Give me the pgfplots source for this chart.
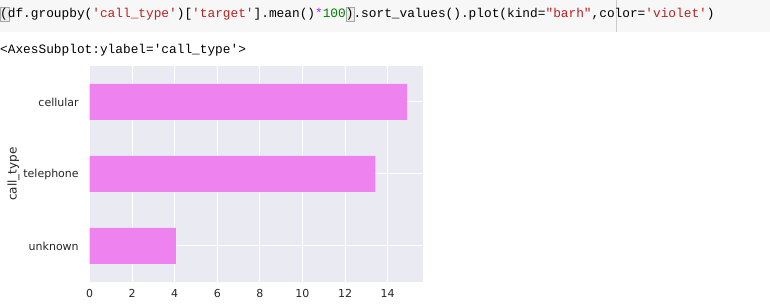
\documentclass[border=0pt]{standalone}
\usepackage{pgfplots}
\pgfplotsset{compat=1.18}
\usepackage{fontspec}
\setmainfont{DejaVu Sans}
\newfontfamily\codefont{Liberation Mono}
\definecolor{sbbg}{HTML}{EAEAF2}
\definecolor{violetc}{HTML}{EE82EE}
\definecolor{txt}{HTML}{262626}
\definecolor{cellbg}{HTML}{F7F7F7}
\definecolor{strc}{HTML}{BA2121}
\definecolor{numc}{HTML}{008000}
\definecolor{opc}{HTML}{AA22FF}
\begin{document}
\begin{tikzpicture}
\path[use as bounding box, fill=white] (0pt,0pt) rectangle (770pt,307pt);
\fill[cellbg] (0pt,307pt) rectangle (770pt,275pt);
\draw[gray!40, line width=0.8pt] (616pt,307pt) -- (616pt,275pt);
\draw[gray!70, line width=0.6pt, fill=gray!15] (0.5pt,300pt) rectangle (9pt,285.5pt);
\draw[gray!70, line width=0.6pt, fill=gray!15] (346.5pt,300pt) rectangle (354.5pt,285.5pt);
\node[anchor=west, inner sep=0pt, font=\codefont\fontsize{12.8}{14}\selectfont] at (0pt,293pt)
 {(df.groupby(\textcolor{strc}{'call\_type'})[\textcolor{strc}{'target'}].mean()\textcolor{opc}{*}\textcolor{numc}{100}).sort\_values().plot(kind=\textcolor{strc}{"barh"},color=\textcolor{strc}{'violet'})};
\node[anchor=west, inner sep=0pt, font=\codefont\fontsize{12.8}{14}\selectfont] at (0pt,257pt)
 {<AxesSubplot:ylabel='call\_type'>};
\begin{axis}[
  at={(89.5pt,25pt)}, anchor=south west,
  scale only axis, width=333.5pt, height=216pt,
  xmin=0, xmax=15.66, ymin=-0.5, ymax=2.5,
  axis background/.style={fill=sbbg},
  axis line style={draw=none},
  major tick style={draw=none},
  grid=major, grid style={white, line width=1pt},
  xtick={0,2,4,6,8,10,12,14},
  ytick={0,1,2}, yticklabels={unknown,telephone,cellular},
  ticklabel style={font=\fontsize{11}{13}\selectfont, text=txt},
  /pgf/number format/assume math mode=true,
  xticklabel style={yshift=-4pt},
  yticklabel style={xshift=-3pt},
  every axis y label/.style={at={(ticklabel cs:0.5,-3pt)}, rotate=90, anchor=south},
  ylabel style={font=\fontsize{12}{14}\selectfont, text=txt},
  ylabel={call\_type},
  xbar, bar width=0.5,
]
\addplot[fill=violetc, draw=none] coordinates {(4.06,0) (13.42,1) (14.92,2)};
\end{axis}
\end{tikzpicture}
\end{document}
